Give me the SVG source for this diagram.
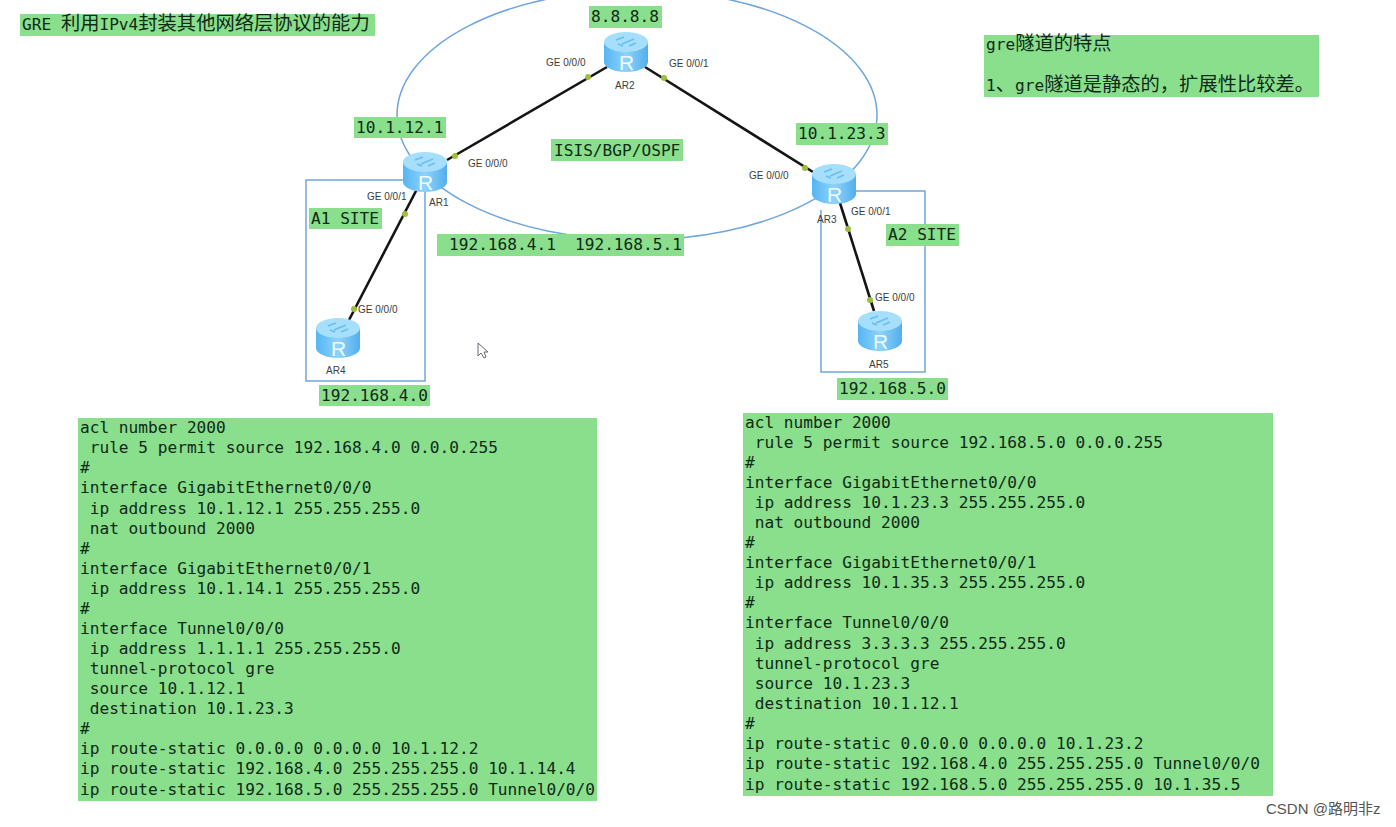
<svg xmlns="http://www.w3.org/2000/svg" width="1396" height="827" viewBox="0 0 1396 827">
<style>
text{font-family:"DejaVu Sans Mono","Noto Sans CJK SC",monospace;font-size:16.15px;fill:#0f2a18;white-space:pre}
.c{font-family:"Noto Sans CJK SC",sans-serif;font-size:19.3px}
.g{fill:#8adf8c}
.lab{font-family:"Liberation Sans",Arial,sans-serif;font-size:10px;fill:#3c3c3c}
.ln{stroke:#151515;stroke-width:2.6;fill:none}
.bl{stroke:#6fa6dc;stroke-width:1.5;fill:none}
.dot{fill:#9fbe3c}
.r{font-family:"Liberation Sans",Arial,sans-serif;font-size:21px;fill:#eefaff}
</style>
<defs>
<linearGradient id="rb" x1="0" x2="1" y1="0" y2="0"><stop offset="0" stop-color="#55b5f2"/><stop offset="0.5" stop-color="#8ed3fb"/><stop offset="1" stop-color="#52aeec"/></linearGradient>
<g id="router">
<path d="M-22 -10V10A22 10 0 0 0 22 10V-10Z" fill="url(#rb)"/>
<ellipse cx="0" cy="-10" rx="22" ry="10" fill="#a5dffc"/>
<path d="M-10 -12L-2 -15M-4 -8L8 -13M3 -6L10 -9M-8 -8L-3 -6" stroke="#6dbdec" stroke-width="1.6" fill="none"/>
</g>
</defs>
<rect width="1396" height="827" fill="#fff"/>
<g id="connectors">
<ellipse class="bl" cx="637" cy="115" rx="240" ry="125"/>
<path class="ln" d="M447 160L607 67"/>
<path class="ln" d="M645 67L813 172"/>
<path class="ln" d="M417 189L349 320"/>
<path class="ln" d="M840 203L874 311"/>
<circle class="dot" cx="455" cy="156" r="3"/><circle class="dot" cx="588" cy="77" r="3"/>
<circle class="dot" cx="664" cy="78" r="3"/><circle class="dot" cx="805" cy="168" r="3"/>
<circle class="dot" cx="405" cy="214" r="3"/><circle class="dot" cx="354" cy="309" r="3"/>
<circle class="dot" cx="848" cy="229" r="3"/><circle class="dot" cx="870" cy="300" r="3"/>
</g>
<g id="site-a1"><path class="bl" d="M403 180H306V381H425V190"/></g>
<g id="site-a2"><path class="bl" d="M856 191H925V372H821V210"/></g>
<g id="AR1"><use href="#router" x="425" y="172"/><text class="r" x="418" y="190">R</text><text class="lab" x="429" y="206">AR1</text></g>
<g id="AR2"><use href="#router" x="626" y="52"/><text class="r" x="619" y="70">R</text><text class="lab" x="615" y="89">AR2</text></g>
<g id="AR3"><use href="#router" x="834" y="184"/><text class="r" x="827" y="202">R</text><text class="lab" x="817" y="223">AR3</text></g>
<g id="AR4"><use href="#router" x="338" y="338"/><text class="r" x="331" y="356">R</text><text class="lab" x="326" y="374">AR4</text></g>
<g id="AR5"><use href="#router" x="880" y="331"/><text class="r" x="873" y="349">R</text><text class="lab" x="869" y="368">AR5</text></g>
<g id="port-labels">
<text class="lab" x="546" y="66">GE 0/0/0</text><text class="lab" x="669" y="67">GE 0/0/1</text>
<text class="lab" x="468" y="167">GE 0/0/0</text><text class="lab" x="367" y="200">GE 0/0/1</text>
<text class="lab" x="358" y="313">GE 0/0/0</text><text class="lab" x="749" y="179">GE 0/0/0</text>
<text class="lab" x="851" y="215">GE 0/0/1</text><text class="lab" x="875" y="301">GE 0/0/0</text>
</g>
<g id="title"><rect class="g" x="20" y="14" width="355" height="22"/><text x="22" y="30">GRE <tspan class="c">利用</tspan>IPv4<tspan class="c">封装其他网络层协议的能力</tspan></text></g>
<g id="ip-8888"><rect class="g" x="589" y="6" width="73" height="22"/><text x="591" y="22">8.8.8.8</text></g>
<g id="ip-r1"><rect class="g" x="354" y="117" width="92" height="21"/><text x="356" y="133">10.1.12.1</text></g>
<g id="ip-r3"><rect class="g" x="796" y="123" width="92" height="22"/><text x="798" y="139">10.1.23.3</text></g>
<g id="proto"><rect class="g" x="551" y="139" width="132" height="22"/><text x="554" y="156">ISIS/BGP/OSPF</text></g>
<g id="a1"><rect class="g" x="309" y="208" width="73" height="21"/><text x="311" y="224">A1 SITE</text></g>
<g id="a2"><rect class="g" x="886" y="224" width="73" height="22"/><text x="888" y="240">A2 SITE</text></g>
<g id="lan-gw"><rect class="g" x="437" y="234" width="247" height="22"/><text x="449" y="250">192.168.4.1</text><text x="575" y="250">192.168.5.1</text></g>
<g id="net4"><rect class="g" x="319" y="385" width="111" height="21"/><text x="321" y="401">192.168.4.0</text></g>
<g id="net5"><rect class="g" x="837" y="378" width="111" height="22"/><text x="839" y="394">192.168.5.0</text></g>
<g id="note"><rect class="g" x="984" y="35" width="335" height="62"/><text x="986" y="50">gre<tspan class="c">隧道的特点</tspan></text><text x="986" y="91">1<tspan class="c">、</tspan>gre<tspan class="c">隧道是静态的，扩展性比较差。</tspan></text></g>
<g id="config-left"><rect class="g" x="78" y="418" width="519" height="383"/>
<text x="80" y="433">acl number 2000</text>
<text x="80" y="453"> rule 5 permit source 192.168.4.0 0.0.0.255</text>
<text x="80" y="473">#</text>
<text x="80" y="493">interface GigabitEthernet0/0/0</text>
<text x="80" y="514"> ip address 10.1.12.1 255.255.255.0</text>
<text x="80" y="534"> nat outbound 2000</text>
<text x="80" y="554">#</text>
<text x="80" y="574">interface GigabitEthernet0/0/1</text>
<text x="80" y="594"> ip address 10.1.14.1 255.255.255.0</text>
<text x="80" y="614">#</text>
<text x="80" y="634">interface Tunnel0/0/0</text>
<text x="80" y="654"> ip address 1.1.1.1 255.255.255.0</text>
<text x="80" y="674"> tunnel-protocol gre</text>
<text x="80" y="694"> source 10.1.12.1</text>
<text x="80" y="714"> destination 10.1.23.3</text>
<text x="80" y="734">#</text>
<text x="80" y="754">ip route-static 0.0.0.0 0.0.0.0 10.1.12.2</text>
<text x="80" y="774">ip route-static 192.168.4.0 255.255.255.0 10.1.14.4</text>
<text x="80" y="795">ip route-static 192.168.5.0 255.255.255.0 Tunnel0/0/0</text>
</g>
<g id="config-right"><rect class="g" x="743" y="413" width="530" height="383"/>
<text x="745" y="428">acl number 2000</text>
<text x="745" y="448"> rule 5 permit source 192.168.5.0 0.0.0.255</text>
<text x="745" y="468">#</text>
<text x="745" y="488">interface GigabitEthernet0/0/0</text>
<text x="745" y="508"> ip address 10.1.23.3 255.255.255.0</text>
<text x="745" y="528"> nat outbound 2000</text>
<text x="745" y="548">#</text>
<text x="745" y="568">interface GigabitEthernet0/0/1</text>
<text x="745" y="588"> ip address 10.1.35.3 255.255.255.0</text>
<text x="745" y="608">#</text>
<text x="745" y="628">interface Tunnel0/0/0</text>
<text x="745" y="649"> ip address 3.3.3.3 255.255.255.0</text>
<text x="745" y="669"> tunnel-protocol gre</text>
<text x="745" y="689"> source 10.1.23.3</text>
<text x="745" y="709"> destination 10.1.12.1</text>
<text x="745" y="729">#</text>
<text x="745" y="749">ip route-static 0.0.0.0 0.0.0.0 10.1.23.2</text>
<text x="745" y="769">ip route-static 192.168.4.0 255.255.255.0 Tunnel0/0/0</text>
<text x="745" y="790">ip route-static 192.168.5.0 255.255.255.0 10.1.35.5</text>
</g>
<g id="cursor"><path d="M478 343V356L481 353L484 358L486 357L484 352H488Z" fill="#fff" stroke="#667" stroke-width="1"/></g>
<text x="1266" y="814" style="font-family:'Liberation Sans','Noto Sans CJK SC',sans-serif;font-size:15px;fill:#555">CSDN @路明非z</text>
</svg>
